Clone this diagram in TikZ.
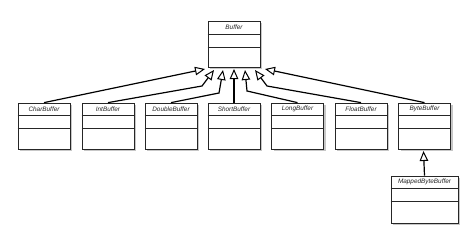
\documentclass[tikz,border=0pt]{standalone}
\usepackage{fontspec}
\setsansfont{Liberation Sans}
\usetikzlibrary{arrows.meta,shadows}
\begin{document}
\begin{tikzpicture}[x=1pt,y=-1pt,
 cls/.style={draw=black!85, line width=0.75pt, fill=white, minimum width=52pt, minimum height=46pt, inner sep=0pt,
   drop shadow={shadow xshift=2pt,shadow yshift=-2pt,fill=black!40,opacity=0.55}},
 lbl/.style={font=\sffamily\itshape\fontsize{6.4}{7}\selectfont, text=black!85, inner sep=0pt},
 div/.style={draw=black!85, line width=0.65pt},
 inh/.style={line width=1.2pt, -{Triangle[open,length=10pt,width=8.5pt,line width=1pt]}},
]
\useasboundingbox (0,0) rectangle (474,241);
% top class
\node[cls] (Buffer) at (234,44) {};
\node[lbl] at ([yshift=-7pt]Buffer.north) {Buffer};
\draw[div] ([yshift=-14pt]Buffer.north west) -- ([yshift=-14pt]Buffer.north east);
\draw[div] ([yshift=-27pt]Buffer.north west) -- ([yshift=-27pt]Buffer.north east);
% subclasses
\foreach \n/\x/\t in {Char/44/CharBuffer, Int/108/IntBuffer, Double/171/DoubleBuffer, Short/234/ShortBuffer, Long/297.5/LongBuffer, Float/361/FloatBuffer, Byte/424.5/ByteBuffer}{
  \node[cls] (\n) at (\x,126) {};
  \node[lbl] at ([yshift=-6.5pt]\n.north) {\t};
  \draw[div] ([yshift=-12.5pt]\n.north west) -- ([yshift=-12.5pt]\n.north east);
  \draw[div] ([yshift=-26pt]\n.north west) -- ([yshift=-26pt]\n.north east);
}
% MappedByteBuffer
\node[cls, minimum width=67pt, minimum height=47pt] (Mapped) at (424.5,199.5) {};
\node[lbl] at ([yshift=-6.5pt]Mapped.north) {MappedByteBuffer};
\draw[div] ([yshift=-13pt]Mapped.north west) -- ([yshift=-13pt]Mapped.north east);
\draw[div] ([yshift=-26pt]Mapped.north west) -- ([yshift=-26pt]Mapped.north east);
% arrow tips and bends
\coordinate (t1) at (205,69);
\coordinate (t2) at (214,70);
\coordinate (t3) at (223,70);
\coordinate (t4) at (234,69);
\coordinate (t5) at (245,70);
\coordinate (t6) at (255,70);
\coordinate (t7) at (265,69);
\coordinate (b2) at (202,86);
\coordinate (b3) at (219,93);
\coordinate (b5) at (247,91);
\coordinate (b6) at (267,86);
\coordinate (tm) at (423.5,151);
% connectors
\draw[inh] (Char.north) -- (t1);
\draw[inh] (Int.north) -- (b2) -- (t2);
\draw[inh] (Double.north) -- (b3) -- (t3);
\draw[inh] (Short.north) -- (t4);
\draw[inh] (Long.north) -- (b5) -- (t5);
\draw[inh] (Float.north) -- (b6) -- (t6);
\draw[inh] (Byte.north) -- (t7);
\draw[inh] (Mapped.north) -- (tm);
\end{tikzpicture}
\end{document}
